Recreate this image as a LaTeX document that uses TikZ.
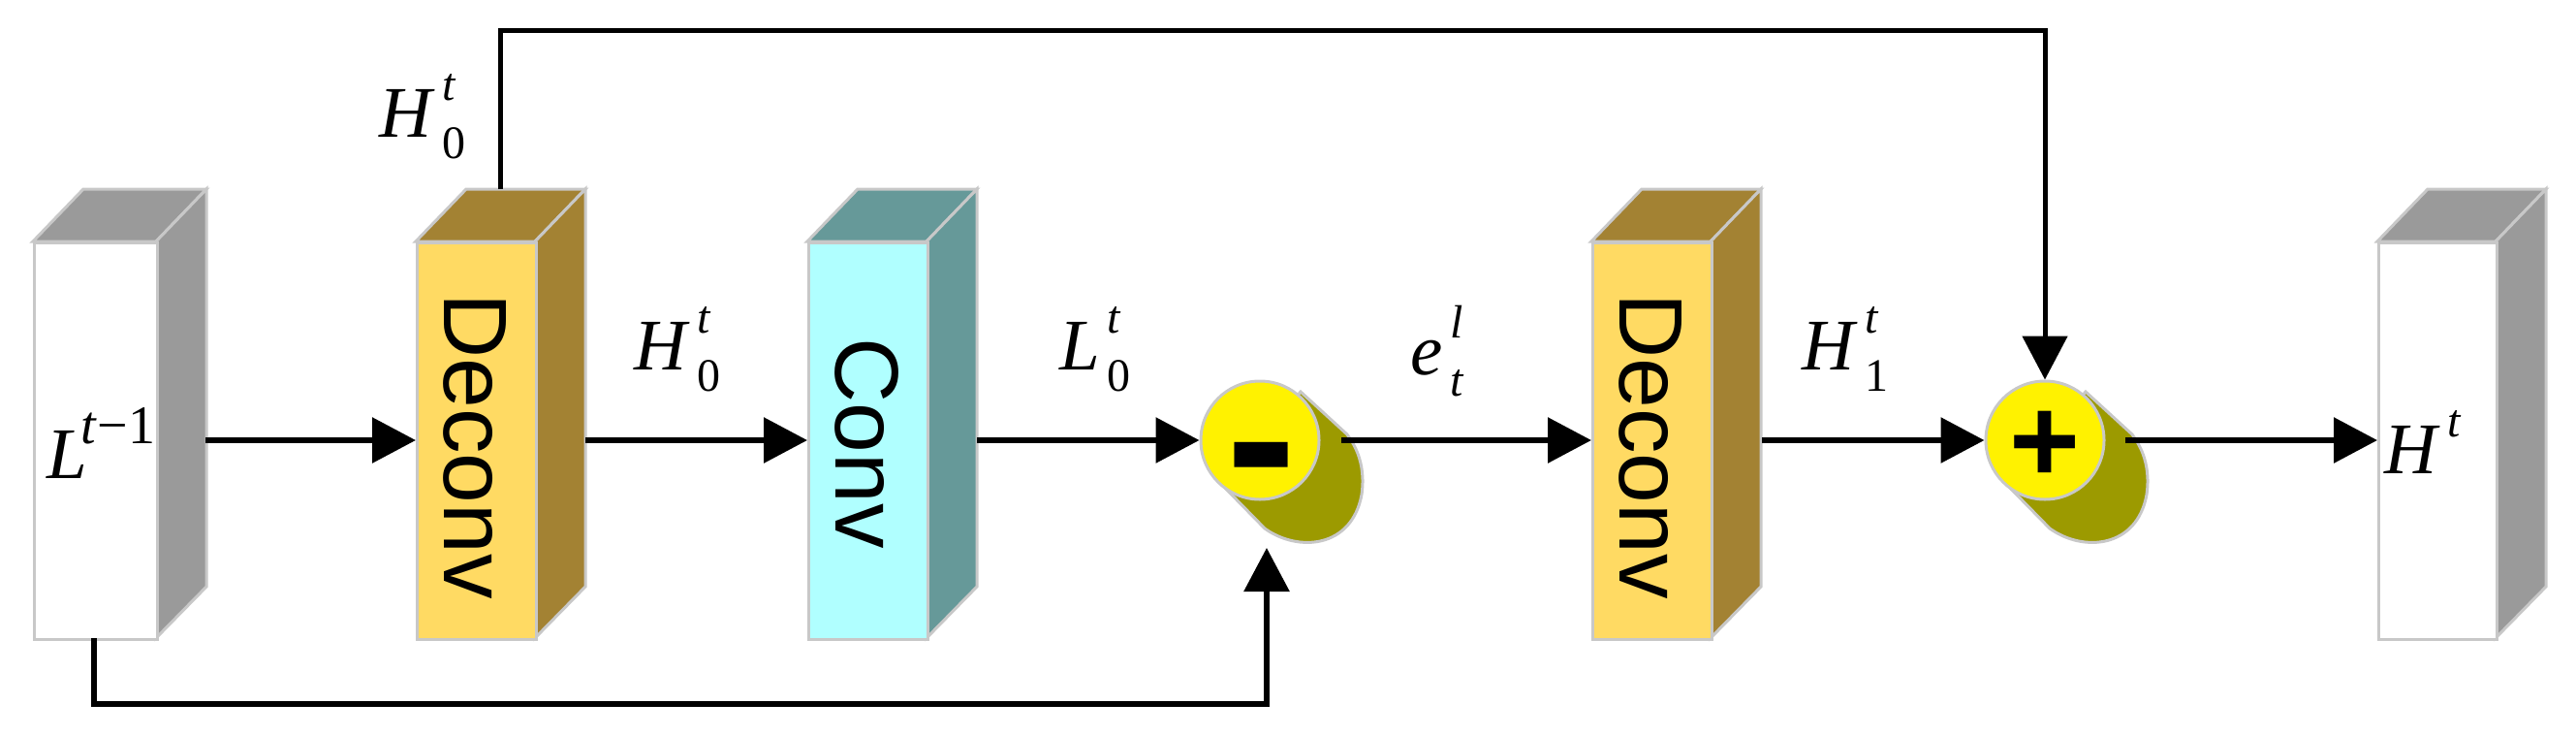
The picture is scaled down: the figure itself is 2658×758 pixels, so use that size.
\documentclass[tikz,border=0pt]{standalone}
\usepackage{fontspec}
\setmainfont{Liberation Serif}
\newfontfamily\sansf{Liberation Sans}
\usetikzlibrary{arrows.meta}
\definecolor{edgeg}{HTML}{C8C8C8}
\definecolor{sideg}{HTML}{9A9A9A}
\definecolor{dfront}{HTML}{FFDA63}
\definecolor{dside}{HTML}{A38233}
\definecolor{cfront}{HTML}{B0FFFF}
\definecolor{cside}{HTML}{669999}
\definecolor{olivec}{HTML}{9C9A00}
\newcommand\myss[3]{\textit{#1}\makebox[0pt][l]{\raisebox{0.5em}{\fontsize{48}{50}\selectfont #2}}\raisebox{-0.3em}{\fontsize{48}{50}\selectfont #3}}
\newcommand\mycuboid[5]{%
  \fill[#5,draw=edgeg,line width=3pt] (#2,249) -- (#2+52,195) -- (#3+52,195) -- (#3,249) -- cycle;
  \fill[#5,draw=edgeg,line width=3pt] (#3,249) -- (#3+52,195) -- (#3+52,605) -- (#3,658) -- cycle;
  \node[draw=edgeg,line width=3pt,fill=#4,minimum width=#3pt-#2pt,minimum height=409pt,inner sep=0pt,anchor=north west] (#1) at (#2,249) {};}
\newcommand\myop[3]{%
  \fill[olivec,draw=edgeg,line width=3pt] (#2-42,#3+43) -- (#2+5,#3+91) .. controls (#2+40,#3+116) and (#2+95,#3+111) .. (#2+105,#3+56) .. controls (#2+110,#3+21) and (#2+95,#3+1) .. (#2+90,#3-6) -- (#2+42,#3-50) -- cycle;
  \node[circle,fill=yellow,draw=edgeg,line width=3pt,minimum size=122pt,inner sep=0pt] (#1) at (#2,#3) {};}
\begin{document}
\begin{tikzpicture}[x=1pt,y=-1pt,
  ar/.style={line width=6pt,-{Triangle[length=45pt,width=46pt]}},
  lab/.style={font=\fontsize{75}{80}\selectfont,inner sep=0pt,anchor=base west},
  blk/.style={font=\sansf\fontsize{93}{95}\selectfont,rotate=-90,inner sep=0pt}]
\useasboundingbox (0,0) rectangle (2658,758);
\mycuboid{b1}{34}{161}{white}{sideg}
\mycuboid{d1}{429}{552}{dfront}{dside}
\mycuboid{c1}{833}{956}{cfront}{cside}
\mycuboid{d2}{1642}{1765}{dfront}{dside}
\mycuboid{b2}{2453}{2575}{white}{sideg}
\myop{mi}{1300}{454}
\myop{pl}{2110}{454}
\node[font=\sansf\bfseries\fontsize{217}{217}\selectfont,inner sep=0pt] at (1302,491) {-};
\node[font=\sansf\bfseries\fontsize{125}{125}\selectfont,inner sep=0pt] at (2110,461) {+};
\node[blk] at (490,460) {Deconv};
\node[blk] at (895,457) {Conv};
\node[blk] at (1703,460) {Deconv};
\node[lab] at (48,493) {\textit{L}\kern-0.08em\raisebox{0.48em}{\fontsize{56}{58}\selectfont\textit{t}−1}};
\node[lab] at (391,141) {\myss{H}{\,\textit{t}}{\,0}};
\node[lab] at (654,381) {\myss{H}{\,\textit{t}}{\,0}};
\node[lab] at (1093,381) {\myss{L}{\,\textit{t}}{\,0}};
\node[lab] at (1455,386) {\myss{e}{\,\textit{l}}{\,\textit{t}}};
\node[lab] at (1859,381) {\myss{H}{\,\textit{t}}{\,1}};
\node[lab] at (2460,488) {\textit{H}\raisebox{0.5em}{\fontsize{48}{50}\selectfont\,\textit{t}}};
\coordinate (b1o) at (212,454);
\coordinate (d1o) at (604,454);
\coordinate (c1o) at (1008,454);
\coordinate (mio) at (1384,454);
\coordinate (d2o) at (1818,454);
\coordinate (plo) at (2193,454);
\draw[ar] (b1o) -- (d1.west|-b1o);
\draw[ar] (d1o) -- (c1.west|-d1o);
\draw[ar] (c1o) -- (mi.west);
\draw[ar] (mio) -- (d2.west|-mio);
\draw[ar] (d2o) -- (pl.west);
\draw[ar] (plo) -- (b2.west|-plo);
\coordinate (t1) at (516,195);
\draw[ar,line width=5pt] (t1) -- (516,31) -- (2110,31) -- (pl.north);
\coordinate (bm) at (1307,565);
\draw[ar] (97,658) -- (97,726) -- (1307,726) -- (bm);
\end{tikzpicture}
\end{document}
